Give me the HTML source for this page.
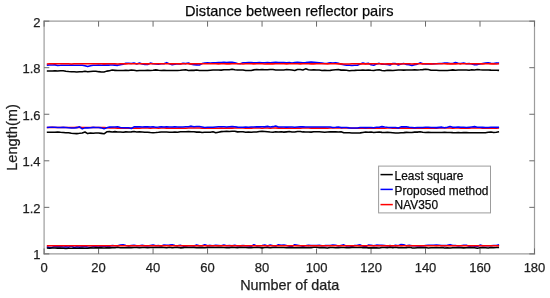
<!DOCTYPE html>
<html><head><meta charset="utf-8"><style>
html,body{margin:0;padding:0;background:#fff;}
svg{display:block;}
text{font-family:"Liberation Sans",Arial,sans-serif;fill:#1e1e1e;stroke:#1e1e1e;stroke-width:0.25px;}
</style></head><body>
<svg width="550" height="298" viewBox="0 0 550 298">
<rect width="550" height="298" fill="#fff"/>
<g stroke="#9c9c9c" stroke-width="1.2" fill="none">
<line x1="44.1" y1="20.549999999999997" x2="44.1" y2="254.5"/>
<line x1="534.5" y1="20.549999999999997" x2="534.5" y2="254.5"/>
<line x1="43.5" y1="21.15" x2="535.1" y2="21.15"/>
<line x1="43.5" y1="253.9" x2="535.1" y2="253.9"/>
</g>
<g stroke="#6a6a6a" stroke-width="1" fill="none">
<line x1="44.1" y1="253.9" x2="44.1" y2="248.4" /><line x1="44.1" y1="21.15" x2="44.1" y2="26.65" /><line x1="98.58888888888889" y1="253.9" x2="98.58888888888889" y2="248.4" /><line x1="98.58888888888889" y1="21.15" x2="98.58888888888889" y2="26.65" /><line x1="153.07777777777778" y1="253.9" x2="153.07777777777778" y2="248.4" /><line x1="153.07777777777778" y1="21.15" x2="153.07777777777778" y2="26.65" /><line x1="207.56666666666666" y1="253.9" x2="207.56666666666666" y2="248.4" /><line x1="207.56666666666666" y1="21.15" x2="207.56666666666666" y2="26.65" /><line x1="262.05555555555554" y1="253.9" x2="262.05555555555554" y2="248.4" /><line x1="262.05555555555554" y1="21.15" x2="262.05555555555554" y2="26.65" /><line x1="316.5444444444445" y1="253.9" x2="316.5444444444445" y2="248.4" /><line x1="316.5444444444445" y1="21.15" x2="316.5444444444445" y2="26.65" /><line x1="371.03333333333336" y1="253.9" x2="371.03333333333336" y2="248.4" /><line x1="371.03333333333336" y1="21.15" x2="371.03333333333336" y2="26.65" /><line x1="425.52222222222224" y1="253.9" x2="425.52222222222224" y2="248.4" /><line x1="425.52222222222224" y1="21.15" x2="425.52222222222224" y2="26.65" /><line x1="480.0111111111111" y1="253.9" x2="480.0111111111111" y2="248.4" /><line x1="480.0111111111111" y1="21.15" x2="480.0111111111111" y2="26.65" /><line x1="534.5" y1="253.9" x2="534.5" y2="248.4" /><line x1="534.5" y1="21.15" x2="534.5" y2="26.65" /><line x1="44.1" y1="253.9" x2="49.300000000000004" y2="253.9" /><line x1="534.5" y1="253.9" x2="529.3" y2="253.9" /><line x1="44.1" y1="207.35000000000002" x2="49.300000000000004" y2="207.35000000000002" /><line x1="534.5" y1="207.35000000000002" x2="529.3" y2="207.35000000000002" /><line x1="44.1" y1="160.8" x2="49.300000000000004" y2="160.8" /><line x1="534.5" y1="160.8" x2="529.3" y2="160.8" /><line x1="44.1" y1="114.24999999999997" x2="49.300000000000004" y2="114.24999999999997" /><line x1="534.5" y1="114.24999999999997" x2="529.3" y2="114.24999999999997" /><line x1="44.1" y1="67.69999999999999" x2="49.300000000000004" y2="67.69999999999999" /><line x1="534.5" y1="67.69999999999999" x2="529.3" y2="67.69999999999999" /><line x1="44.1" y1="21.150000000000006" x2="49.300000000000004" y2="21.150000000000006" /><line x1="534.5" y1="21.150000000000006" x2="529.3" y2="21.150000000000006" />
</g>
<g>
<polyline points="46.82,70.96 49.55,71.05 52.27,70.96 55.00,70.67 57.72,70.90 60.45,70.72 63.17,70.76 65.90,71.23 68.62,71.57 71.34,71.78 74.07,71.79 76.79,71.93 79.52,71.76 82.24,71.65 84.97,71.32 87.69,71.78 90.42,71.41 93.14,71.18 95.86,71.16 98.59,71.64 101.31,71.93 104.04,71.94 106.76,71.13 109.49,70.64 112.21,70.09 114.94,70.36 117.66,70.59 120.38,70.46 123.11,70.50 125.83,70.39 128.56,70.57 131.28,69.94 134.01,70.15 136.73,70.67 139.46,70.50 142.18,70.57 144.90,70.43 147.63,70.29 150.35,70.43 153.08,70.18 155.80,69.86 158.53,70.23 161.25,70.49 163.98,70.33 166.70,70.48 169.42,70.52 172.15,70.51 174.87,70.41 177.60,70.45 180.32,70.34 183.05,70.07 185.77,69.86 188.50,70.52 191.22,70.39 193.94,70.36 196.67,70.10 199.39,70.54 202.12,70.57 204.84,70.56 207.57,70.45 210.29,70.21 213.02,70.07 215.74,69.92 218.46,69.96 221.19,70.12 223.91,69.72 226.64,69.72 229.36,69.77 232.09,69.31 234.81,69.79 237.54,70.10 240.26,69.92 242.98,69.92 245.71,70.45 248.43,70.60 251.16,70.40 253.88,69.87 256.61,69.49 259.33,69.66 262.06,69.52 264.78,69.84 267.50,69.84 270.23,69.60 272.95,69.57 275.68,69.91 278.40,70.07 281.13,70.02 283.85,69.90 286.58,69.55 289.30,69.71 292.02,70.06 294.75,70.59 297.47,69.51 300.20,69.58 302.92,69.93 305.65,68.86 308.37,69.65 311.10,69.98 313.82,69.67 316.54,70.04 319.27,70.00 321.99,70.40 324.72,70.36 327.44,70.40 330.17,70.36 332.89,70.07 335.62,69.72 338.34,69.49 341.06,70.12 343.79,70.06 346.51,70.23 349.24,70.65 351.96,70.47 354.69,70.38 357.41,70.21 360.14,70.20 362.86,70.07 365.58,70.28 368.31,70.01 371.03,70.32 373.76,70.47 376.48,69.93 379.21,69.76 381.93,70.39 384.66,70.84 387.38,70.32 390.10,70.37 392.83,70.56 395.55,70.17 398.28,70.10 401.00,70.05 403.73,70.13 406.45,69.93 409.18,70.05 411.90,69.97 414.62,69.85 417.35,69.94 420.07,69.82 422.80,69.61 425.52,69.17 428.25,69.56 430.97,70.31 433.70,70.18 436.42,70.31 439.14,70.55 441.87,70.52 444.59,70.60 447.32,70.44 450.04,70.15 452.77,69.89 455.49,70.25 458.22,69.99 460.94,69.90 463.66,69.90 466.39,69.97 469.11,70.30 471.84,69.75 474.56,69.94 477.29,69.47 480.01,69.80 482.74,70.04 485.46,69.92 488.18,69.93 490.91,70.13 493.63,70.19 496.36,70.15 499.08,70.36" fill="none" stroke="#000" stroke-width="1.55" stroke-linejoin="round"/><polyline points="46.82,65.12 49.55,65.06 52.27,65.09 55.00,64.87 57.72,65.40 60.45,65.34 63.17,65.16 65.90,65.29 68.62,65.23 71.34,65.13 74.07,65.32 76.79,65.16 79.52,65.16 82.24,65.22 84.97,65.77 87.69,66.59 90.42,65.72 93.14,65.26 95.86,65.25 98.59,65.04 101.31,65.19 104.04,65.10 106.76,65.10 109.49,65.10 112.21,64.91 114.94,65.11 117.66,65.36 120.38,64.72 123.11,64.25 125.83,63.33 128.56,63.28 131.28,63.59 134.01,63.03 136.73,63.89 139.46,63.08 142.18,63.97 144.90,64.40 147.63,64.55 150.35,63.08 153.08,63.85 155.80,63.93 158.53,64.12 161.25,63.81 163.98,63.77 166.70,62.59 169.42,63.87 172.15,64.74 174.87,64.31 177.60,63.68 180.32,64.04 183.05,63.24 185.77,63.61 188.50,63.04 191.22,64.23 193.94,64.80 196.67,64.88 199.39,65.00 202.12,63.60 204.84,63.01 207.57,62.88 210.29,62.97 213.02,62.78 215.74,62.69 218.46,62.55 221.19,62.48 223.91,62.26 226.64,62.48 229.36,62.30 232.09,62.36 234.81,62.70 237.54,63.43 240.26,63.72 242.98,62.82 245.71,62.74 248.43,62.53 251.16,62.60 253.88,62.71 256.61,62.75 259.33,62.52 262.06,62.68 264.78,62.75 267.50,62.60 270.23,62.67 272.95,62.43 275.68,62.22 278.40,62.58 281.13,62.63 283.85,62.63 286.58,62.67 289.30,62.62 292.02,63.07 294.75,62.49 297.47,62.36 300.20,62.47 302.92,62.77 305.65,62.57 308.37,62.28 311.10,62.02 313.82,62.26 316.54,62.48 319.27,62.66 321.99,63.12 324.72,63.52 327.44,63.27 330.17,62.87 332.89,63.00 335.62,62.65 338.34,63.25 341.06,64.30 343.79,64.66 346.51,65.28 349.24,65.15 351.96,65.42 354.69,65.25 357.41,65.19 360.14,64.02 362.86,62.97 365.58,63.85 368.31,63.28 371.03,64.81 373.76,65.17 376.48,63.93 379.21,63.38 381.93,64.17 384.66,64.33 387.38,64.50 390.10,64.98 392.83,63.48 395.55,63.59 398.28,64.94 401.00,64.09 403.73,63.46 406.45,64.44 409.18,64.84 411.90,65.55 414.62,64.79 417.35,64.18 420.07,62.82 422.80,63.77 425.52,63.94 428.25,63.86 430.97,63.90 433.70,63.78 436.42,63.81 439.14,63.53 441.87,63.54 444.59,63.00 447.32,63.09 450.04,63.60 452.77,63.54 455.49,62.48 458.22,63.33 460.94,63.56 463.66,62.93 466.39,63.70 469.11,63.44 471.84,63.92 474.56,64.85 477.29,64.61 480.01,64.09 482.74,63.49 485.46,63.12 488.18,62.82 490.91,63.27 493.63,63.56 496.36,62.90 499.08,63.07" fill="none" stroke="#0000ff" stroke-width="1.55" stroke-linejoin="round"/><polyline points="46.82,63.90 49.55,63.67 52.27,63.82 55.00,63.77 57.72,63.78 60.45,63.79 63.17,63.70 65.90,63.79 68.62,63.76 71.34,63.97 74.07,63.81 76.79,63.79 79.52,63.79 82.24,63.77 84.97,63.75 87.69,63.79 90.42,63.83 93.14,63.79 95.86,63.85 98.59,63.80 101.31,63.81 104.04,63.88 106.76,63.83 109.49,63.78 112.21,63.80 114.94,63.83 117.66,63.91 120.38,63.80 123.11,63.80 125.83,63.86 128.56,63.77 131.28,63.80 134.01,63.85 136.73,63.84 139.46,63.82 142.18,63.84 144.90,63.67 147.63,63.86 150.35,63.76 153.08,63.73 155.80,63.83 158.53,63.85 161.25,63.79 163.98,63.76 166.70,63.81 169.42,63.81 172.15,63.88 174.87,63.85 177.60,63.82 180.32,63.87 183.05,63.80 185.77,63.77 188.50,63.85 191.22,63.85 193.94,63.81 196.67,63.78 199.39,63.83 202.12,63.69 204.84,63.85 207.57,63.84 210.29,63.74 213.02,63.82 215.74,63.77 218.46,63.86 221.19,63.72 223.91,63.77 226.64,63.86 229.36,63.88 232.09,63.71 234.81,63.80 237.54,63.84 240.26,63.79 242.98,63.90 245.71,63.76 248.43,63.84 251.16,63.77 253.88,63.89 256.61,63.82 259.33,63.80 262.06,63.74 264.78,63.91 267.50,63.86 270.23,63.86 272.95,63.88 275.68,63.84 278.40,63.79 281.13,63.79 283.85,63.79 286.58,63.89 289.30,63.75 292.02,63.80 294.75,63.81 297.47,63.84 300.20,63.86 302.92,63.77 305.65,63.74 308.37,63.83 311.10,63.89 313.82,63.87 316.54,63.84 319.27,63.81 321.99,63.84 324.72,63.82 327.44,63.87 330.17,63.79 332.89,63.84 335.62,63.83 338.34,63.86 341.06,63.84 343.79,63.96 346.51,63.91 349.24,63.91 351.96,63.73 354.69,63.82 357.41,63.80 360.14,63.86 362.86,63.72 365.58,63.89 368.31,63.89 371.03,63.77 373.76,63.79 376.48,63.80 379.21,63.84 381.93,63.87 384.66,63.94 387.38,63.83 390.10,63.88 392.83,63.85 395.55,63.93 398.28,63.88 401.00,63.91 403.73,63.78 406.45,63.83 409.18,63.80 411.90,63.91 414.62,63.87 417.35,63.82 420.07,63.82 422.80,63.86 425.52,63.81 428.25,63.79 430.97,63.87 433.70,63.97 436.42,63.83 439.14,63.81 441.87,63.78 444.59,63.78 447.32,63.87 450.04,63.89 452.77,63.84 455.49,63.86 458.22,63.85 460.94,63.85 463.66,63.77 466.39,63.82 469.11,63.85 471.84,63.81 474.56,63.82 477.29,63.81 480.01,63.83 482.74,63.89 485.46,63.83 488.18,63.84 490.91,63.89 493.63,63.88 496.36,63.93 499.08,63.74" fill="none" stroke="#ff0000" stroke-width="1.55" stroke-linejoin="round"/><polyline points="46.82,132.35 49.55,132.22 52.27,132.31 55.00,132.22 57.72,131.95 60.45,132.29 63.17,132.43 65.90,132.79 68.62,132.75 71.34,133.23 74.07,133.42 76.79,133.61 79.52,133.32 82.24,132.93 84.97,132.00 87.69,133.61 90.42,133.00 93.14,133.27 95.86,133.06 98.59,133.07 101.31,133.36 104.04,133.76 106.76,131.76 109.49,131.62 112.21,131.99 114.94,131.62 117.66,132.01 120.38,131.98 123.11,132.31 125.83,131.87 128.56,131.91 131.28,131.87 134.01,131.59 136.73,131.93 139.46,131.78 142.18,132.01 144.90,132.20 147.63,132.21 150.35,132.55 153.08,132.71 155.80,132.58 158.53,132.32 161.25,131.97 163.98,132.04 166.70,132.06 169.42,132.15 172.15,132.15 174.87,132.08 177.60,132.33 180.32,131.85 183.05,131.72 185.77,131.74 188.50,131.58 191.22,131.73 193.94,131.85 196.67,132.14 199.39,132.01 202.12,132.46 204.84,132.20 207.57,132.28 210.29,132.33 213.02,131.85 215.74,132.82 218.46,132.24 221.19,131.62 223.91,131.47 226.64,131.24 229.36,131.54 232.09,131.30 234.81,131.31 237.54,131.88 240.26,131.66 242.98,131.77 245.71,132.33 248.43,132.00 251.16,132.21 253.88,131.93 256.61,131.90 259.33,131.49 262.06,131.27 264.78,131.54 267.50,131.81 270.23,132.07 272.95,132.25 275.68,131.68 278.40,131.93 281.13,131.77 283.85,132.11 286.58,131.87 289.30,131.60 292.02,131.99 294.75,132.07 297.47,131.49 300.20,131.40 302.92,131.89 305.65,131.90 308.37,132.01 311.10,132.13 313.82,131.82 316.54,131.71 319.27,131.81 321.99,131.91 324.72,132.20 327.44,132.06 330.17,131.88 332.89,131.88 335.62,131.71 338.34,131.91 341.06,131.85 343.79,132.81 346.51,132.74 349.24,132.84 351.96,132.98 354.69,132.98 357.41,132.97 360.14,132.88 362.86,132.41 365.58,132.02 368.31,132.28 371.03,132.01 373.76,132.57 376.48,132.21 379.21,132.02 381.93,132.39 384.66,132.51 387.38,132.34 390.10,132.55 392.83,132.79 395.55,133.05 398.28,132.91 401.00,132.71 403.73,132.64 406.45,132.38 409.18,132.44 411.90,132.40 414.62,132.12 417.35,132.14 420.07,131.85 422.80,132.24 425.52,132.51 428.25,132.17 430.97,132.54 433.70,132.54 436.42,132.41 439.14,132.44 441.87,132.47 444.59,132.34 447.32,132.44 450.04,132.49 452.77,132.61 455.49,132.65 458.22,132.43 460.94,132.69 463.66,132.49 466.39,132.62 469.11,132.74 471.84,132.72 474.56,132.75 477.29,132.85 480.01,132.77 482.74,132.81 485.46,132.71 488.18,132.21 490.91,132.10 493.63,132.45 496.36,132.24 499.08,131.80" fill="none" stroke="#000" stroke-width="1.55" stroke-linejoin="round"/><polyline points="46.82,127.53 49.55,127.59 52.27,127.25 55.00,127.44 57.72,127.53 60.45,127.56 63.17,127.50 65.90,127.57 68.62,127.47 71.34,127.49 74.07,127.46 76.79,127.36 79.52,127.38 82.24,127.48 84.97,127.40 87.69,127.55 90.42,127.55 93.14,127.59 95.86,127.45 98.59,127.56 101.31,127.43 104.04,127.56 106.76,127.75 109.49,127.88 112.21,127.85 114.94,127.96 117.66,128.13 120.38,128.03 123.11,128.20 125.83,128.13 128.56,128.12 131.28,128.12 134.01,128.17 136.73,128.09 139.46,128.19 142.18,128.06 144.90,128.08 147.63,128.05 150.35,128.15 153.08,128.10 155.80,128.03 158.53,128.26 161.25,128.07 163.98,128.09 166.70,128.13 169.42,128.24 172.15,128.09 174.87,128.16 177.60,128.11 180.32,127.98 183.05,128.16 185.77,128.18 188.50,128.08 191.22,128.10 193.94,127.98 196.67,127.98 199.39,128.07 202.12,128.15 204.84,128.06 207.57,128.12 210.29,128.18 213.02,128.11 215.74,128.15 218.46,128.22 221.19,128.00 223.91,128.16 226.64,127.95 229.36,128.13 232.09,128.12 234.81,128.06 237.54,128.01 240.26,128.10 242.98,128.07 245.71,128.11 248.43,128.03 251.16,128.14 253.88,128.02 256.61,128.08 259.33,128.07 262.06,128.20 264.78,127.98 267.50,128.07 270.23,128.19 272.95,128.05 275.68,128.00 278.40,128.12 281.13,128.08 283.85,128.17 286.58,128.03 289.30,128.12 292.02,128.15 294.75,128.18 297.47,128.01 300.20,128.21 302.92,128.03 305.65,127.98 308.37,128.02 311.10,128.11 313.82,128.07 316.54,128.14 319.27,128.14 321.99,128.13 324.72,128.08 327.44,128.25 330.17,127.92 332.89,127.96 335.62,128.06 338.34,128.00 341.06,127.90 343.79,128.04 346.51,128.04 349.24,127.90 351.96,128.17 354.69,128.20 357.41,128.20 360.14,128.06 362.86,128.11 365.58,128.01 368.31,128.12 371.03,128.05 373.76,128.13 376.48,128.07 379.21,128.18 381.93,128.17 384.66,128.20 387.38,127.97 390.10,127.95 392.83,128.13 395.55,128.05 398.28,128.13 401.00,128.12 403.73,128.11 406.45,128.17 409.18,128.14 411.90,128.14 414.62,128.03 417.35,128.24 420.07,128.11 422.80,128.19 425.52,128.13 428.25,128.20 430.97,128.11 433.70,128.12 436.42,128.11 439.14,128.04 441.87,128.05 444.59,128.09 447.32,128.09 450.04,128.02 452.77,128.29 455.49,128.02 458.22,128.08 460.94,128.30 463.66,128.05 466.39,128.16 469.11,128.15 471.84,128.08 474.56,127.99 477.29,127.98 480.01,128.10 482.74,128.13 485.46,127.93 488.18,128.11 490.91,128.05 493.63,128.17 496.36,128.11 499.08,128.04" fill="none" stroke="#ff0000" stroke-width="1.55" stroke-linejoin="round"/><polyline points="46.82,127.53 49.55,127.32 52.27,127.35 55.00,127.31 57.72,127.49 60.45,127.41 63.17,127.38 65.90,127.42 68.62,127.73 71.34,127.98 74.07,127.96 76.79,127.63 79.52,126.85 82.24,128.88 84.97,127.89 87.69,127.87 90.42,127.81 93.14,127.39 95.86,127.50 98.59,127.56 101.31,127.87 104.04,128.72 106.76,127.81 109.49,127.12 112.21,126.90 114.94,126.98 117.66,126.79 120.38,127.57 123.11,127.76 125.83,127.72 128.56,127.85 131.28,128.48 134.01,126.84 136.73,126.86 139.46,126.80 142.18,126.95 144.90,126.88 147.63,126.82 150.35,127.04 153.08,126.83 155.80,127.15 158.53,127.07 161.25,126.65 163.98,126.99 166.70,126.78 169.42,126.95 172.15,126.96 174.87,126.65 177.60,126.91 180.32,126.91 183.05,127.09 185.77,126.68 188.50,126.65 191.22,126.13 193.94,126.79 196.67,126.59 199.39,126.56 202.12,127.04 204.84,127.51 207.57,127.25 210.29,127.28 213.02,127.28 215.74,126.97 218.46,126.74 221.19,126.68 223.91,126.80 226.64,127.10 229.36,126.75 232.09,126.55 234.81,126.79 237.54,127.13 240.26,127.19 242.98,127.17 245.71,127.02 248.43,127.28 251.16,126.96 253.88,126.97 256.61,126.80 259.33,126.86 262.06,126.85 264.78,126.87 267.50,126.37 270.23,126.90 272.95,126.64 275.68,126.05 278.40,127.08 281.13,126.96 283.85,127.08 286.58,127.11 289.30,127.03 292.02,127.08 294.75,127.28 297.47,126.98 300.20,126.86 302.92,126.77 305.65,127.02 308.37,127.00 311.10,127.09 313.82,126.98 316.54,126.98 319.27,126.94 321.99,126.97 324.72,127.07 327.44,126.99 330.17,127.07 332.89,127.41 335.62,127.27 338.34,127.04 341.06,127.61 343.79,127.47 346.51,127.41 349.24,127.87 351.96,127.92 354.69,128.00 357.41,128.09 360.14,127.60 362.86,127.46 365.58,127.61 368.31,127.40 371.03,127.51 373.76,127.73 376.48,127.27 379.21,127.25 381.93,126.62 384.66,127.02 387.38,127.30 390.10,127.45 392.83,127.52 395.55,127.48 398.28,127.94 401.00,126.86 403.73,126.74 406.45,126.87 409.18,127.35 411.90,127.52 414.62,127.71 417.35,127.52 420.07,127.44 422.80,127.52 425.52,127.27 428.25,127.35 430.97,127.51 433.70,127.48 436.42,127.61 439.14,127.37 441.87,127.14 444.59,127.64 447.32,127.19 450.04,126.50 452.77,127.24 455.49,127.35 458.22,127.08 460.94,127.29 463.66,127.27 466.39,127.59 469.11,127.23 471.84,126.94 474.56,126.62 477.29,127.15 480.01,127.21 482.74,127.38 485.46,127.51 488.18,127.44 490.91,127.21 493.63,127.18 496.36,127.37 499.08,127.24" fill="none" stroke="#0000ff" stroke-width="1.55" stroke-linejoin="round"/><polyline points="46.82,246.82 49.55,247.41 52.27,247.35 55.00,246.57 57.72,246.67 60.45,246.56 63.17,247.06 65.90,246.77 68.62,247.14 71.34,245.97 74.07,247.50 76.79,246.76 79.52,247.11 82.24,246.74 84.97,246.63 87.69,247.01 90.42,247.17 93.14,246.71 95.86,246.73 98.59,247.11 101.31,246.41 104.04,246.12 106.76,246.98 109.49,246.36 112.21,245.54 114.94,245.79 117.66,245.69 120.38,245.11 123.11,244.83 125.83,245.52 128.56,245.90 131.28,245.40 134.01,245.17 136.73,245.67 139.46,245.82 142.18,245.36 144.90,245.75 147.63,245.97 150.35,245.41 153.08,245.13 155.80,245.66 158.53,245.61 161.25,245.99 163.98,244.92 166.70,245.20 169.42,245.12 172.15,244.72 174.87,245.56 177.60,245.74 180.32,245.17 183.05,246.12 185.77,245.87 188.50,245.78 191.22,245.68 193.94,245.93 196.67,244.90 199.39,245.78 202.12,245.77 204.84,244.70 207.57,245.66 210.29,245.39 213.02,245.85 215.74,245.30 218.46,245.49 221.19,245.65 223.91,245.11 226.64,245.77 229.36,245.45 232.09,245.72 234.81,245.27 237.54,245.99 240.26,245.77 242.98,245.42 245.71,245.78 248.43,246.07 251.16,246.31 253.88,244.79 256.61,245.90 259.33,245.71 262.06,245.46 264.78,245.05 267.50,246.07 270.23,244.93 272.95,245.76 275.68,246.09 278.40,244.78 281.13,245.36 283.85,244.91 286.58,245.61 289.30,246.18 292.02,246.41 294.75,244.70 297.47,245.24 300.20,245.82 302.92,246.21 305.65,245.69 308.37,245.16 311.10,245.63 313.82,245.49 316.54,245.41 319.27,245.17 321.99,245.67 324.72,245.64 327.44,245.46 330.17,245.40 332.89,244.92 335.62,245.28 338.34,246.04 341.06,245.41 343.79,244.85 346.51,246.10 349.24,245.74 351.96,246.45 354.69,245.53 357.41,245.29 360.14,244.85 362.86,246.10 365.58,246.66 368.31,245.13 371.03,245.21 373.76,245.77 376.48,245.13 379.21,245.38 381.93,245.34 384.66,245.59 387.38,245.99 390.10,245.51 392.83,245.91 395.55,245.31 398.28,245.65 401.00,244.54 403.73,244.85 406.45,245.86 409.18,245.23 411.90,245.76 414.62,245.74 417.35,246.10 420.07,245.87 422.80,245.96 425.52,245.45 428.25,245.19 430.97,245.17 433.70,245.28 436.42,244.99 439.14,245.25 441.87,245.46 444.59,245.61 447.32,245.35 450.04,244.63 452.77,245.47 455.49,245.60 458.22,245.99 460.94,245.76 463.66,245.21 466.39,245.17 469.11,246.40 471.84,245.84 474.56,246.32 477.29,246.46 480.01,245.13 482.74,245.67 485.46,245.71 488.18,245.75 490.91,245.74 493.63,245.59 496.36,245.58 499.08,244.82" fill="none" stroke="#0000ff" stroke-width="1.55" stroke-linejoin="round"/><polyline points="46.82,248.10 49.55,248.18 52.27,248.10 55.00,248.01 57.72,248.11 60.45,248.04 63.17,248.25 65.90,248.51 68.62,248.20 71.34,248.17 74.07,248.35 76.79,248.30 79.52,248.22 82.24,248.01 84.97,248.15 87.69,248.25 90.42,247.86 93.14,248.02 95.86,247.76 98.59,247.87 101.31,247.77 104.04,248.06 106.76,247.77 109.49,247.89 112.21,247.73 114.94,247.69 117.66,247.29 120.38,247.67 123.11,247.78 125.83,247.81 128.56,247.48 131.28,247.63 134.01,247.50 136.73,247.50 139.46,247.80 142.18,247.45 144.90,247.58 147.63,247.74 150.35,247.47 153.08,247.55 155.80,247.58 158.53,247.57 161.25,247.33 163.98,247.55 166.70,247.78 169.42,247.25 172.15,247.67 174.87,247.53 177.60,247.39 180.32,247.86 183.05,247.64 185.77,247.28 188.50,247.51 191.22,247.60 193.94,247.47 196.67,247.62 199.39,247.49 202.12,247.62 204.84,247.76 207.57,247.38 210.29,247.54 213.02,247.42 215.74,247.52 218.46,247.29 221.19,247.41 223.91,247.48 226.64,247.69 229.36,247.74 232.09,247.30 234.81,247.40 237.54,247.67 240.26,247.20 242.98,247.48 245.71,247.55 248.43,247.80 251.16,247.70 253.88,247.53 256.61,247.53 259.33,247.55 262.06,247.87 264.78,247.52 267.50,247.55 270.23,247.66 272.95,247.58 275.68,247.56 278.40,247.40 281.13,247.60 283.85,247.52 286.58,247.81 289.30,247.72 292.02,247.60 294.75,247.72 297.47,247.54 300.20,247.79 302.92,247.61 305.65,247.72 308.37,247.40 311.10,247.70 313.82,247.34 316.54,247.29 319.27,247.61 321.99,247.51 324.72,247.71 327.44,248.10 330.17,247.55 332.89,247.57 335.62,247.70 338.34,247.73 341.06,247.59 343.79,247.57 346.51,247.72 349.24,247.67 351.96,247.37 354.69,247.52 357.41,247.52 360.14,247.31 362.86,247.62 365.58,247.49 368.31,247.88 371.03,247.81 373.76,247.86 376.48,247.81 379.21,247.96 381.93,247.54 384.66,247.56 387.38,247.70 390.10,247.12 392.83,247.67 395.55,247.22 398.28,247.69 401.00,247.41 403.73,247.72 406.45,247.62 409.18,247.34 411.90,247.86 414.62,247.91 417.35,247.65 420.07,247.63 422.80,247.67 425.52,247.54 428.25,247.93 430.97,247.65 433.70,247.75 436.42,247.64 439.14,247.68 441.87,247.58 444.59,248.04 447.32,247.80 450.04,248.01 452.77,247.84 455.49,247.73 458.22,247.80 460.94,247.77 463.66,247.88 466.39,247.82 469.11,247.84 471.84,247.64 474.56,247.72 477.29,248.15 480.01,247.71 482.74,247.62 485.46,247.85 488.18,248.03 490.91,247.49 493.63,247.70 496.36,247.60 499.08,247.38" fill="none" stroke="#000" stroke-width="1.55" stroke-linejoin="round"/><polyline points="46.82,245.72 49.55,245.76 52.27,245.68 55.00,245.78 57.72,245.80 60.45,245.73 63.17,245.77 65.90,245.76 68.62,245.73 71.34,245.72 74.07,245.67 76.79,245.81 79.52,245.75 82.24,245.85 84.97,245.78 87.69,245.76 90.42,245.72 93.14,245.81 95.86,245.73 98.59,245.81 101.31,245.73 104.04,245.76 106.76,245.69 109.49,245.84 112.21,245.75 114.94,245.73 117.66,245.78 120.38,245.71 123.11,245.78 125.83,245.70 128.56,245.77 131.28,245.71 134.01,245.68 136.73,245.73 139.46,245.69 142.18,245.77 144.90,245.75 147.63,245.77 150.35,245.75 153.08,245.74 155.80,245.75 158.53,245.79 161.25,245.74 163.98,245.72 166.70,245.71 169.42,245.74 172.15,245.72 174.87,245.83 177.60,245.70 180.32,245.71 183.05,245.74 185.77,245.78 188.50,245.74 191.22,245.71 193.94,245.72 196.67,245.74 199.39,245.79 202.12,245.71 204.84,245.75 207.57,245.73 210.29,245.76 213.02,245.77 215.74,245.69 218.46,245.85 221.19,245.76 223.91,245.73 226.64,245.71 229.36,245.74 232.09,245.75 234.81,245.77 237.54,245.75 240.26,245.77 242.98,245.69 245.71,245.72 248.43,245.71 251.16,245.76 253.88,245.77 256.61,245.69 259.33,245.74 262.06,245.78 264.78,245.79 267.50,245.71 270.23,245.77 272.95,245.76 275.68,245.73 278.40,245.83 281.13,245.71 283.85,245.74 286.58,245.77 289.30,245.76 292.02,245.74 294.75,245.81 297.47,245.81 300.20,245.79 302.92,245.79 305.65,245.75 308.37,245.70 311.10,245.84 313.82,245.71 316.54,245.84 319.27,245.74 321.99,245.76 324.72,245.74 327.44,245.79 330.17,245.73 332.89,245.82 335.62,245.77 338.34,245.76 341.06,245.73 343.79,245.76 346.51,245.75 349.24,245.83 351.96,245.79 354.69,245.69 357.41,245.81 360.14,245.66 362.86,245.81 365.58,245.67 368.31,245.75 371.03,245.78 373.76,245.75 376.48,245.71 379.21,245.80 381.93,245.68 384.66,245.69 387.38,245.81 390.10,245.72 392.83,245.76 395.55,245.78 398.28,245.75 401.00,245.76 403.73,245.75 406.45,245.76 409.18,245.80 411.90,245.79 414.62,245.76 417.35,245.79 420.07,245.73 422.80,245.72 425.52,245.71 428.25,245.78 430.97,245.81 433.70,245.75 436.42,245.67 439.14,245.73 441.87,245.77 444.59,245.76 447.32,245.75 450.04,245.79 452.77,245.79 455.49,245.70 458.22,245.77 460.94,245.72 463.66,245.76 466.39,245.80 469.11,245.82 471.84,245.78 474.56,245.73 477.29,245.74 480.01,245.77 482.74,245.71 485.46,245.75 488.18,245.77 490.91,245.79 493.63,245.74 496.36,245.76 499.08,245.80" fill="none" stroke="#ff0000" stroke-width="1.55" stroke-linejoin="round"/>
</g>
<g font-size="13">
<text x="44.10" y="271.8" text-anchor="middle">0</text><text x="98.59" y="271.8" text-anchor="middle">20</text><text x="153.08" y="271.8" text-anchor="middle">40</text><text x="207.57" y="271.8" text-anchor="middle">60</text><text x="262.06" y="271.8" text-anchor="middle">80</text><text x="316.54" y="271.8" text-anchor="middle">100</text><text x="371.03" y="271.8" text-anchor="middle">120</text><text x="425.52" y="271.8" text-anchor="middle">140</text><text x="480.01" y="271.8" text-anchor="middle">160</text><text x="534.50" y="271.8" text-anchor="middle">180</text><text x="40.5" y="259.30" text-anchor="end">1</text><text x="40.5" y="212.75" text-anchor="end">1.2</text><text x="40.5" y="166.20" text-anchor="end">1.4</text><text x="40.5" y="119.65" text-anchor="end">1.6</text><text x="40.5" y="73.10" text-anchor="end">1.8</text><text x="40.5" y="26.55" text-anchor="end">2</text>
</g>
<text x="289.3" y="15.75" font-size="14.6" style="fill:#000" text-anchor="middle">Distance between reflector pairs</text>
<text x="289.8" y="290.2" font-size="14.4" text-anchor="middle">Number of data</text>
<text transform="translate(16.6,137.5) rotate(-90)" font-size="14.6" text-anchor="middle">Length(m)</text>
<g>
<rect x="378.6" y="166.1" width="111.9" height="46.8" fill="#fff" stroke="#9c9c9c" stroke-width="1"/>
<line x1="380.5" y1="174.6" x2="392.8" y2="174.6" stroke="#000" stroke-width="1.5"/>
<line x1="380.5" y1="189.4" x2="392.8" y2="189.4" stroke="#0000ff" stroke-width="1.5"/>
<line x1="380.5" y1="204.6" x2="392.8" y2="204.6" stroke="#ff0000" stroke-width="1.5"/>
<g font-size="11.9" style="fill:#000">
<text x="394.6" y="179.6" style="fill:#000">Least square</text>
<text x="394.6" y="194.5" style="fill:#000">Proposed method</text>
<text x="394.6" y="209.4" style="fill:#000">NAV350</text>
</g>
</g>
</svg>
</body></html>
